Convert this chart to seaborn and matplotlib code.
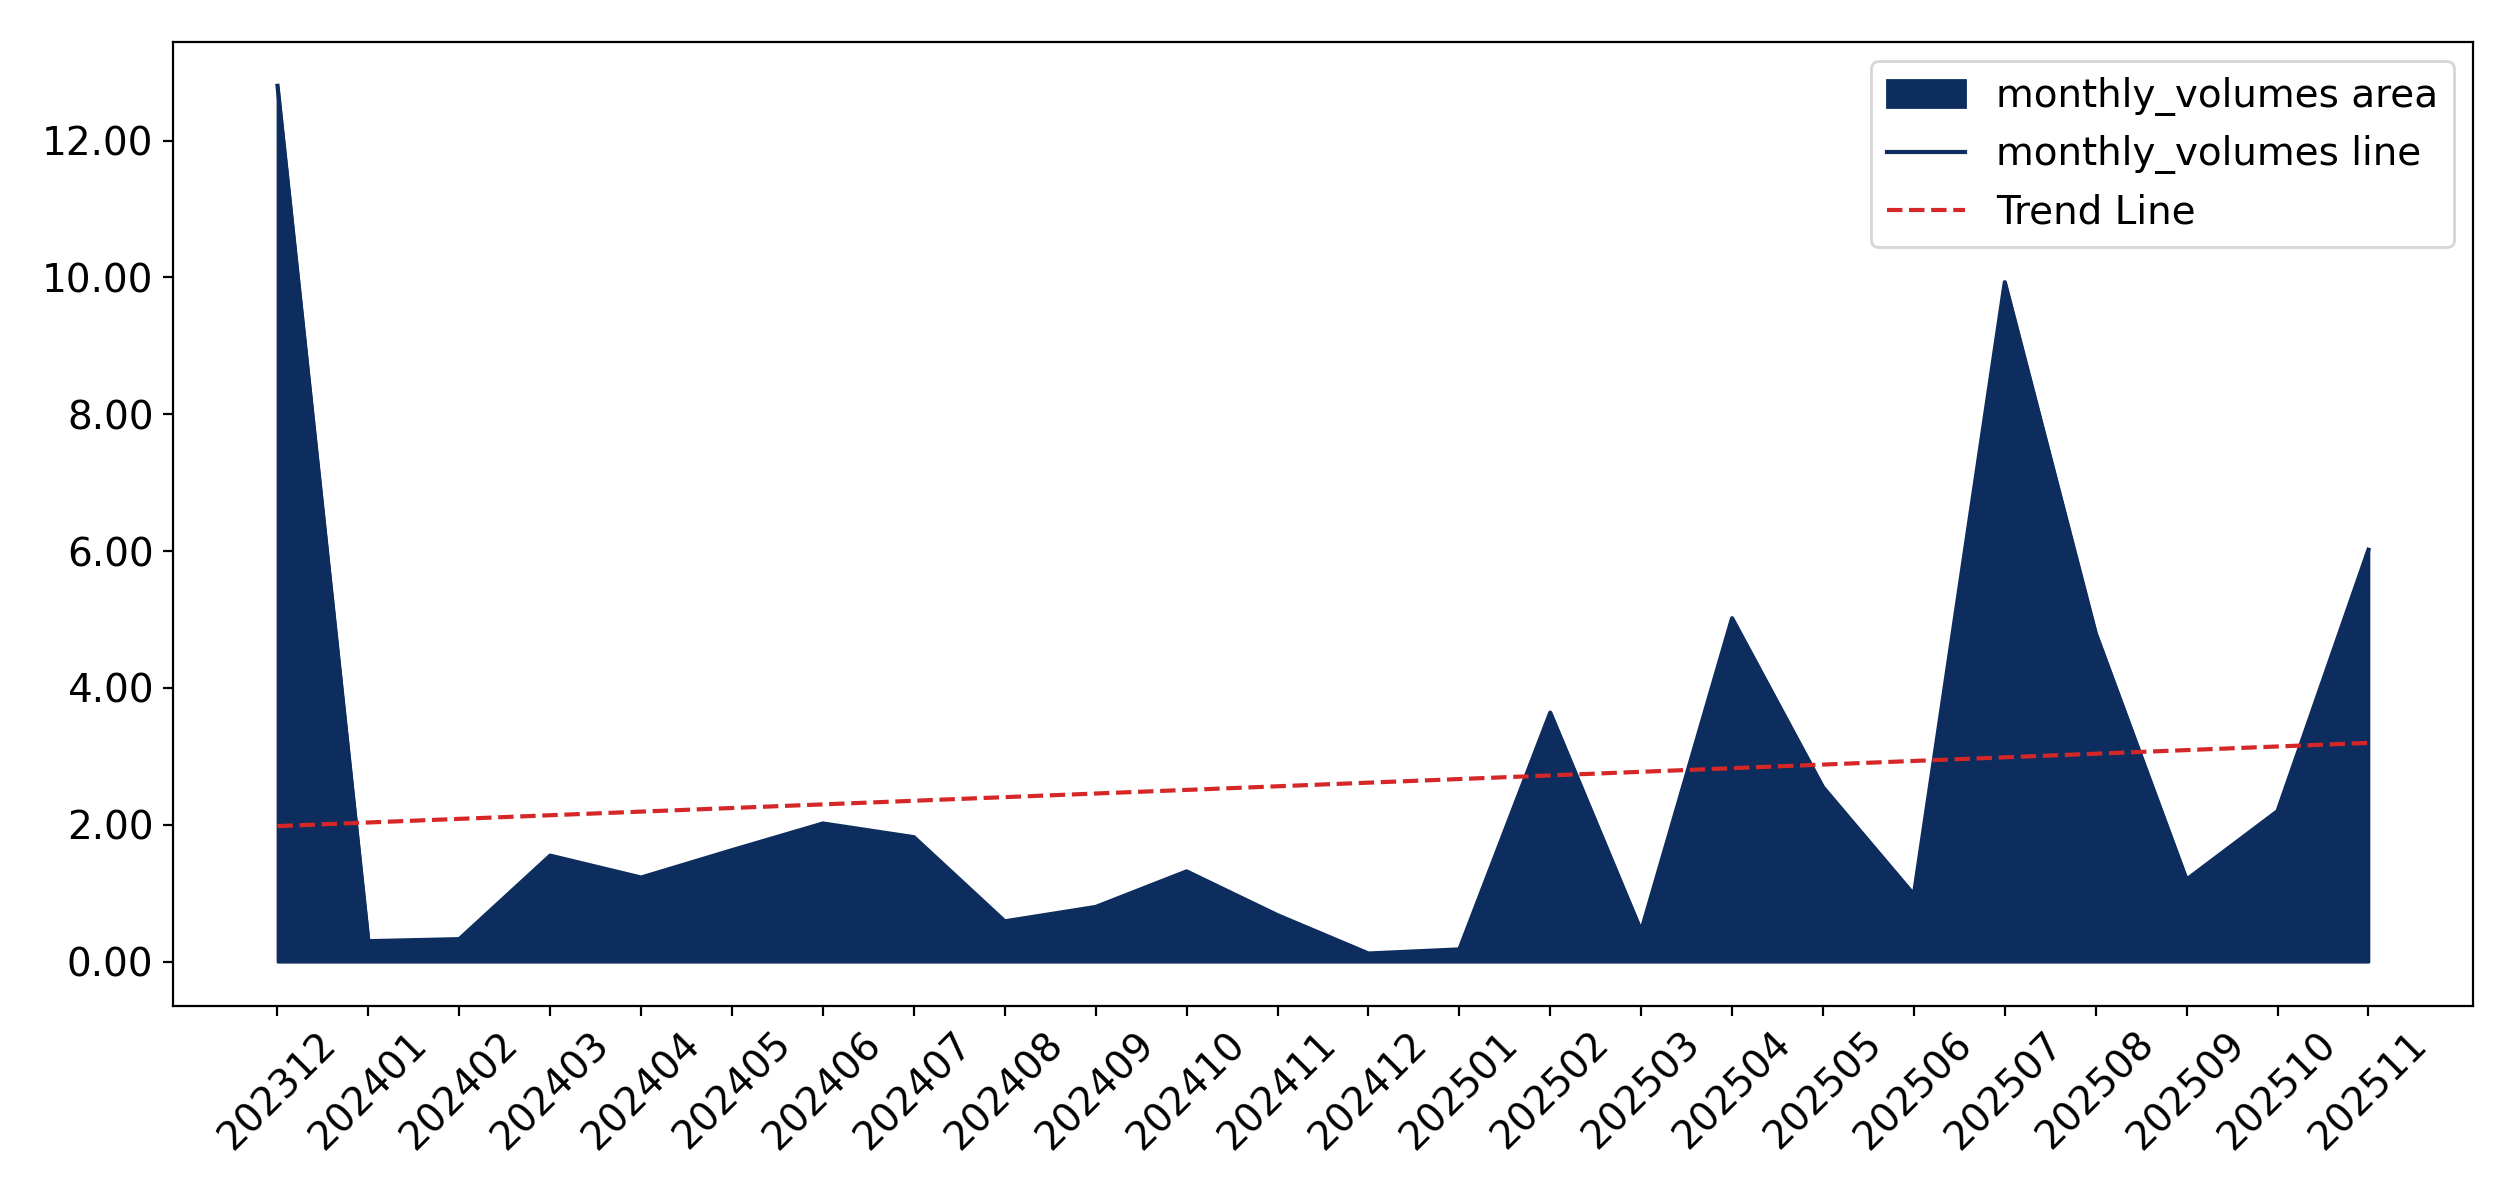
import numpy as np
import pandas as pd
import matplotlib
matplotlib.use("Agg")
import matplotlib.pyplot as plt
import seaborn as sns

months = ["202312","202401","202402","202403","202404","202405","202406","202407",
          "202408","202409","202410","202411","202412","202501","202502","202503",
          "202504","202505","202506","202507","202508","202509","202510","202511"]
volumes = [12.8,0.3,0.33,1.55,1.23,1.63,2.02,1.82,0.59,0.8,1.32,0.68,0.12,0.18,
           3.64,0.45,5.02,2.55,0.98,9.93,4.8,1.2,2.2,6.02]

df = pd.DataFrame({"month": months, "x": np.arange(len(months)), "v": volumes})
coef = np.polyfit(df["x"], df["v"], 1)
df["trend"] = np.polyval(coef, df["x"])

plt.rcParams["font.size"] = 14
fig, ax = plt.subplots(figsize=(12.575, 5.995), dpi=200)
color = "#0d2d5e"
ax.fill_between(df["x"], df["v"], color=color, label="monthly_volumes area")
sns.lineplot(data=df, x="x", y="v", color=color, ax=ax, label="monthly_volumes line")
sns.lineplot(data=df, x="x", y="trend", color="#d62728", linestyle="--", ax=ax, label="Trend Line")
ax.set_xticks(df["x"])
ax.set_xticklabels(months, rotation=45)
ax.yaxis.set_major_formatter(matplotlib.ticker.FormatStrFormatter("%.2f"))
ax.set_xlabel("")
ax.set_ylabel("")
ax.legend(loc="upper right", fontsize=14)
fig.tight_layout()
fig.savefig("out.png", dpi=200)
